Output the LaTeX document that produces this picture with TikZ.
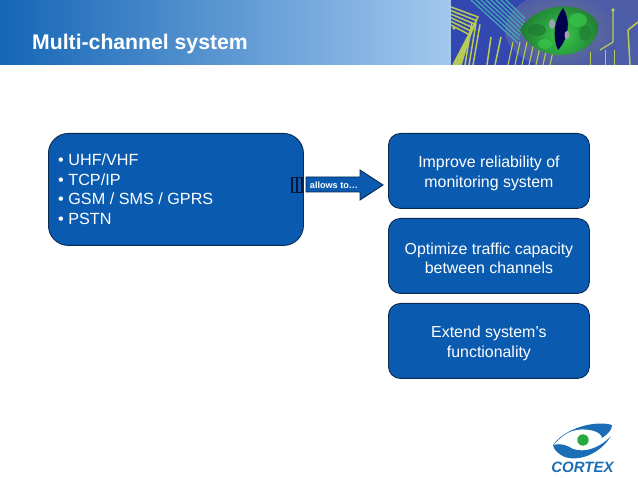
\documentclass[tikz,border=0pt]{standalone}
\usepackage{fontspec}
\setmainfont{Liberation Sans}
\usetikzlibrary{shadings,calc}
\definecolor{boxblue}{HTML}{0A5BAF}
\definecolor{boxedge}{HTML}{0A2A52}
\definecolor{glyphedge}{HTML}{04183A}
\definecolor{headL}{HTML}{1566B6}
\definecolor{headM}{HTML}{4F8FD8}
\definecolor{headR}{HTML}{A2C8EE}
\definecolor{circ}{HTML}{4D5CA6}
\definecolor{circd}{HTML}{3347B0}
\definecolor{trace}{HTML}{B9CC55}
\definecolor{teal}{HTML}{45A9B8}
\definecolor{eyeD}{HTML}{1F7A32}
\definecolor{eyeL}{HTML}{38C84A}
\definecolor{lidgray}{HTML}{6F7A8C}
\definecolor{logob}{HTML}{1B6DB5}
\definecolor{logog}{HTML}{27A83F}
\newcommand{\lowr}{\rule{0pt}{16pt}}
\tikzset{
 panel/.style={draw=boxedge,line width=0.9pt,fill=boxblue,rounded corners=12pt,minimum width=201pt,minimum height=75pt,
   text=white,align=center,font=\fontsize{15.9}{19.6}\selectfont,anchor=north west,inner sep=0pt},
 tr/.style={trace,line width=1.5pt},
 tl/.style={teal,line width=1.2pt},
 glyphbox/.style={draw=glyphedge,line width=1.2pt,minimum height=15pt,inner sep=0pt},
}
\begin{document}
\begin{tikzpicture}[x=1pt,y=-1pt]
\useasboundingbox (0,0) rectangle (638,478);
\fill[white] (0,0) rectangle (638,478);
% header
\shade[left color=headL,middle color=headM,right color=headR] (0,0) rectangle (451,65);
\node[anchor=west,text=white,inner sep=0pt,font=\bfseries\fontsize{21.2}{24}\selectfont] (title) at (32,44) {Multi-channel system};
% picture strip
\begin{scope}
\clip (451,0) rectangle (638,65);
\fill[circ] (451,0) rectangle (638,65);
\fill[circd] (451,0) -- (525,0) -- (535,65) -- (451,65) -- cycle;
\shade[inner color=lidgray,outer color=circ] (561,30) ellipse (56 and 38);
\foreach \d in {0,5,10,15,20,25,30,35}{
  \draw[tl] ({471+\d},0) -- ({518+\d*0.2},{43-\d*0.7});
}
\foreach \d in {0,4,8,12,16,20}{
  \draw[tr] (451,{7+\d*0.9}) -- ({478-\d*0.4},{17+\d*0.9}) -- ({461+\d*0.4-8},65);
}
\foreach \d in {0,4,8}{
  \draw[tr] ({472+\d},{22+\d*0.3}) -- ({461+\d+4},65);
}
\draw[tr] (491,37) -- (487,65);
\draw[tr] (501,37) -- (495,65);
\foreach \x in {513,520,527,534,541,548,555}{
  \draw[tr,line width=1.1pt] (\x,42) -- ({\x-5},65);
}
\fill[trace] (454,28) circle (1.8);
\draw[tr,line width=1.2pt] (613,10) -- (613,42) -- (600,50);
\fill[trace] (613,10) circle (1.8);
\draw[tr] (628,30) -- (638,22);
\draw[tr] (628,30) -- (630,65);
\draw[tr,line width=1pt] (605,50) -- (605,65);
\draw[tr,line width=1pt] (614,50) -- (614,65);
\draw[tr,line width=1pt] (590,52) -- (590,65);
% eye
\shade[inner color=eyeL,outer color=eyeD] (520,30) .. controls (535,2) and (585,-2) .. (598,24) .. controls (602,55) and (540,72) .. (520,30) -- cycle;
\fill[eyeD,opacity=.7] (537,30) ellipse (9 and 6);
\fill[eyeD,opacity=.6] (585,33) ellipse (6 and 8);
\fill[eyeL,opacity=.7] (578,20) ellipse (9 and 7);
\fill[eyeL,opacity=.7] (545,44) ellipse (7 and 5);
\fill[blue!30!black] (563,8) .. controls (571,20) and (569,38) .. (558,50) .. controls (552,38) and (554,20) .. (563,8) -- cycle;
\fill[lidgray!70!white] (552,24) ellipse (3 and 5);
\fill[lidgray!70!white] (567,35) ellipse (2.5 and 4);
\end{scope}
% left box
\node[panel,minimum width=255pt,minimum height=112pt,rounded corners=20pt] (src) at (48,133) {};
\node[anchor=north west,text=white,align=left,inner sep=0pt,font=\fontsize{16.2}{19.5}\selectfont] (srclist) at (58,154) {•~UHF/VHF\\•~TCP/IP\\•~GSM / SMS / GPRS\\•~PSTN};
% glyph boxes
\node[glyphbox,minimum width=5pt] (g1) at (294.5,185) {};
\node[glyphbox,minimum width=5pt] (g2) at (299.5,185) {};
% arrow
\draw[boxedge,fill=boxblue,line width=0.9pt] (306,177) -- (360,177) -- (360,170) -- (383,185) -- (360,200) -- (360,192) -- (306,192) -- cycle;
\node[text=white,inner sep=0pt,font=\bfseries\fontsize{9.1}{11}\selectfont] (lbl) at (334,185) {allows to…};
% right boxes
\node[panel] (r1) at (388,133) {\lowr Improve reliability of\\monitoring system};
\node[panel] (r2) at (388,218) {\lowr Optimize traffic capacity\\between channels};
\node[panel] (r3) at (388,303) {\lowr Extend system’s\\functionality};
% logo
\fill[logob] (553,445) .. controls (565,428) and (595,420) .. (612,425) .. controls (612,430) and (608,434) .. (602,438) .. controls (602,431) and (585,427) .. (572,431) .. controls (564,434) and (558,440) .. (553,445) -- cycle;
\fill[logob] (553,445) .. controls (562,443) and (566,445) .. (573,449) .. controls (585,453) and (600,448) .. (611,436) .. controls (601,453) and (580,462) .. (565,457) .. controls (558,454) and (554,450) .. (553,445) -- cycle;
\fill[logog] (583,440) circle (5.7);
\node[text=logob,inner sep=0pt,font=\bfseries\itshape\fontsize{15}{17}\selectfont] (brand) at (582.5,467) {CORTEX};
\end{tikzpicture}
\end{document}
